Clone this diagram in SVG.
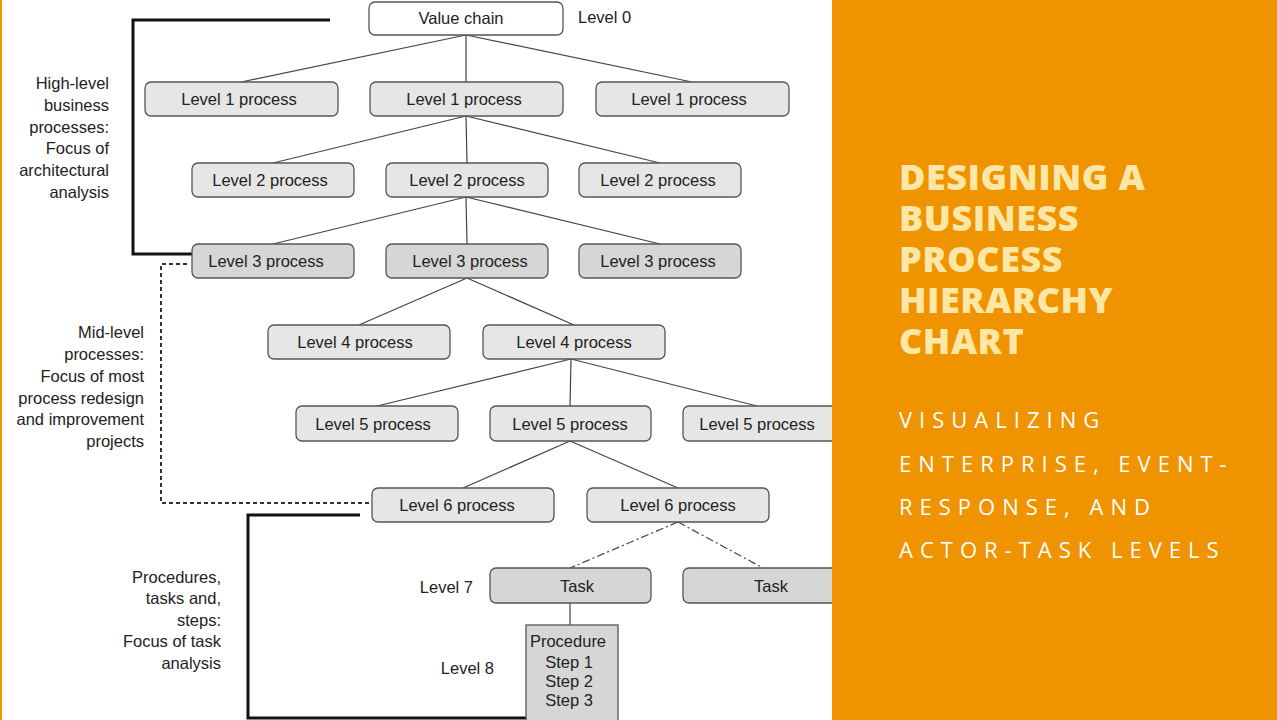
<svg xmlns="http://www.w3.org/2000/svg" width="1277" height="720" viewBox="0 0 1277 720">
<style>
.b{stroke:#555;stroke-width:1.3}
.p{fill:#e6e6e6}
.d{fill:#d6d6d6}
.t{font-family:"Liberation Sans",Arial,sans-serif;font-size:16.5px;fill:#222;text-anchor:middle}
.l{font-family:"Liberation Sans",Arial,sans-serif;font-size:16.5px;fill:#222;text-anchor:end}
.c{stroke:#444;stroke-width:1.2;fill:none}
.h{font-family:"Open Sans",sans-serif;font-weight:800;font-size:36px;fill:#fde7a6;letter-spacing:0.5px}
.s{font-family:"Open Sans",sans-serif;font-size:22px;fill:#fff;letter-spacing:7px}
</style>
<rect width="1277" height="720" fill="#fff"/>
<rect x="0" y="0" width="2" height="720" fill="#ef9300"/>
<g id="connectors">
<path class="c" d="M466,35L241,82M466,35L466,82M466,35L692,82M466,116L273,163M466,116L467,163M466,116L660,163M466,197L273,244M466,197L467,244M466,197L660,244M467,278L359,325M467,278L574,325M571,359L377,406M571,359L570,406M571,359L757,406M570,441L463,488M570,441L678,488M570,603L570,625"/>
<path class="c" stroke-dasharray="8,3,2,3" d="M678,522L570,568M678,522L763,568"/>
<path d="M330,20H133V254H192" fill="none" stroke="#111" stroke-width="3"/>
<path d="M187,264H161V503H370" fill="none" stroke="#333" stroke-width="2" stroke-dasharray="4,3"/>
<path d="M360,515H248V718H526" fill="none" stroke="#111" stroke-width="3"/>
</g>
<g id="n0"><rect class="b" x="369" y="2" width="194" height="33" rx="6" fill="#fff"/><text class="t" x="461" y="24">Value chain</text></g>
<g id="l1a"><rect class="b p" x="145" y="82" width="193" height="34" rx="6"/><text class="t" x="239" y="105">Level 1 process</text></g>
<g id="l1b"><rect class="b p" x="370" y="82" width="193" height="34" rx="6"/><text class="t" x="464" y="105">Level 1 process</text></g>
<g id="l1c"><rect class="b p" x="596" y="82" width="193" height="34" rx="6"/><text class="t" x="689" y="105">Level 1 process</text></g>
<g id="l2a"><rect class="b p" x="192" y="163" width="162" height="34" rx="6"/><text class="t" x="270" y="186">Level 2 process</text></g>
<g id="l2b"><rect class="b p" x="386" y="163" width="162" height="34" rx="6"/><text class="t" x="467" y="186">Level 2 process</text></g>
<g id="l2c"><rect class="b p" x="579" y="163" width="162" height="34" rx="6"/><text class="t" x="658" y="186">Level 2 process</text></g>
<g id="l3a"><rect class="b d" x="192" y="244" width="162" height="34" rx="6"/><text class="t" x="266" y="267">Level 3 process</text></g>
<g id="l3b"><rect class="b d" x="386" y="244" width="162" height="34" rx="6"/><text class="t" x="470" y="267">Level 3 process</text></g>
<g id="l3c"><rect class="b d" x="579" y="244" width="162" height="34" rx="6"/><text class="t" x="658" y="267">Level 3 process</text></g>
<g id="l4a"><rect class="b p" x="268" y="325" width="182" height="34" rx="6"/><text class="t" x="355" y="348">Level 4 process</text></g>
<g id="l4b"><rect class="b p" x="483" y="325" width="182" height="34" rx="6"/><text class="t" x="574" y="348">Level 4 process</text></g>
<g id="l5a"><rect class="b p" x="296" y="406" width="162" height="35" rx="6"/><text class="t" x="373" y="430">Level 5 process</text></g>
<g id="l5b"><rect class="b p" x="490" y="406" width="161" height="35" rx="6"/><text class="t" x="570" y="430">Level 5 process</text></g>
<g id="l5c"><rect class="b p" x="683" y="406" width="162" height="35" rx="6"/><text class="t" x="757" y="430">Level 5 process</text></g>
<g id="l6a"><rect class="b p" x="372" y="488" width="182" height="34" rx="6"/><text class="t" x="457" y="511">Level 6 process</text></g>
<g id="l6b"><rect class="b p" x="587" y="488" width="182" height="34" rx="6"/><text class="t" x="678" y="511">Level 6 process</text></g>
<g id="t1"><rect class="b d" x="490" y="568" width="161" height="35" rx="6"/><text class="t" x="577" y="592">Task</text></g>
<g id="t2"><rect class="b d" x="683" y="568" width="162" height="35" rx="6"/><text class="t" x="771" y="592">Task</text></g>
<g id="proc"><rect class="b d" x="526" y="625" width="92" height="100"/><text class="t" x="568" y="647" font-size="15">Procedure</text><text class="t" x="569" y="668" font-size="15">Step 1</text><text class="t" x="569" y="687" font-size="15">Step 2</text><text class="t" x="569" y="706" font-size="15">Step 3</text></g>
<g id="labels">
<text class="t" x="578" y="23" style="text-anchor:start">Level 0</text>
<text class="l" x="473" y="593">Level 7</text>
<text class="l" x="494" y="674">Level 8</text>
<text class="l" x="109" y="89">High-level</text><text class="l" x="109" y="111">business</text><text class="l" x="109" y="133">processes:</text><text class="l" x="109" y="154">Focus of</text><text class="l" x="109" y="176">architectural</text><text class="l" x="109" y="198">analysis</text>
<text class="l" x="144" y="338">Mid-level</text><text class="l" x="144" y="360">processes:</text><text class="l" x="144" y="382">Focus of most</text><text class="l" x="144" y="404">process redesign</text><text class="l" x="144" y="425">and improvement</text><text class="l" x="144" y="447">projects</text>
<text class="l" x="221" y="583">Procedures,</text><text class="l" x="221" y="604">tasks and,</text><text class="l" x="221" y="626">steps:</text><text class="l" x="221" y="647">Focus of task</text><text class="l" x="221" y="669">analysis</text>
</g>
<rect x="832" y="0" width="445" height="720" fill="#ef9300"/>
<g id="title">
<text class="h" x="899" y="190">DESIGNING A</text><text class="h" x="899" y="231">BUSINESS</text><text class="h" x="899" y="272">PROCESS</text><text class="h" x="899" y="313">HIERARCHY</text><text class="h" x="899" y="354">CHART</text>
<text class="s" x="899" y="428">VISUALIZING</text><text class="s" x="899" y="472">ENTERPRISE, EVENT-</text><text class="s" x="899" y="515">RESPONSE, AND</text><text class="s" x="899" y="558">ACTOR-TASK LEVELS</text>
</g>
</svg>
